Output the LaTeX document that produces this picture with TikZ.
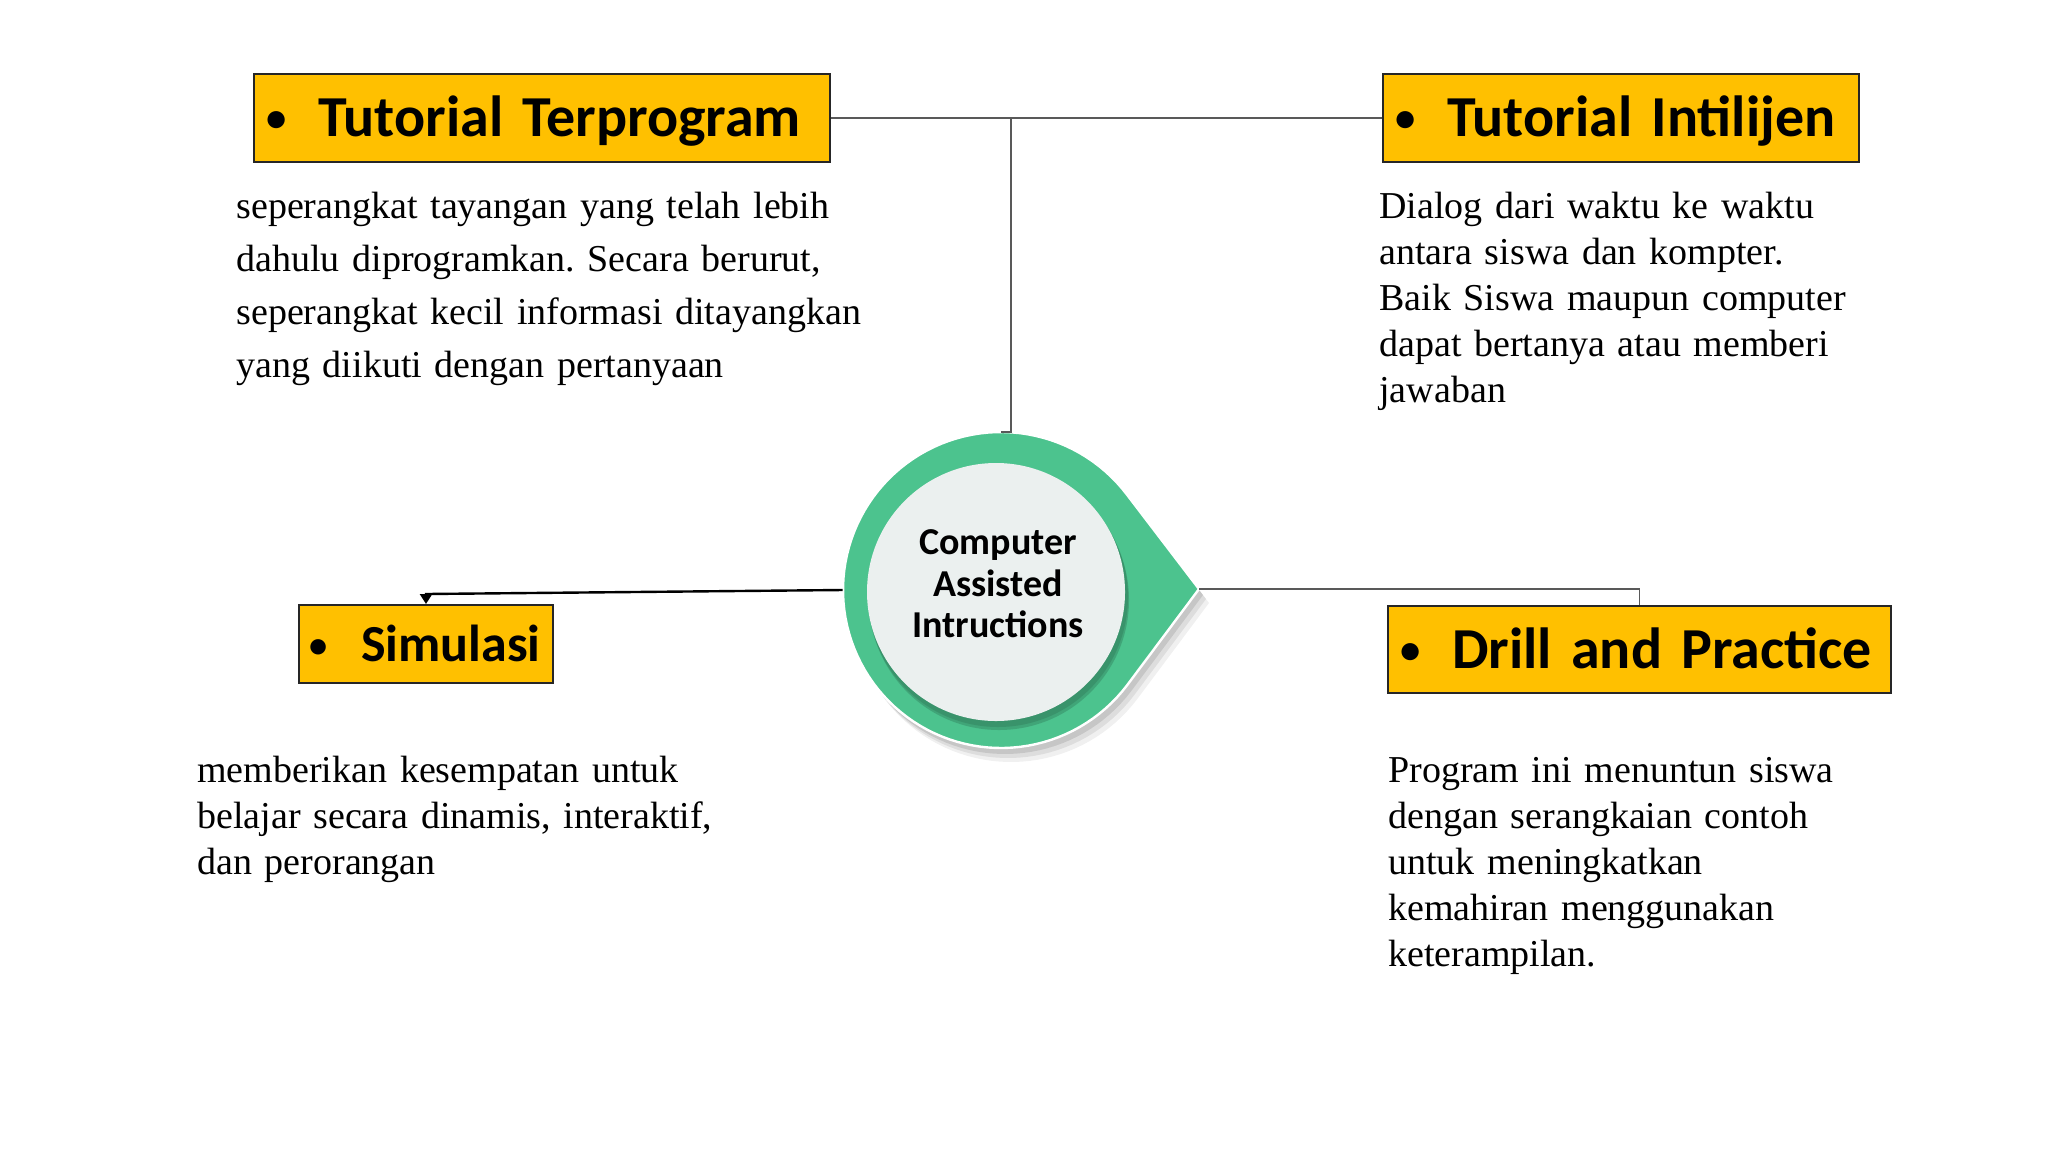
\documentclass[tikz,border=0pt]{standalone}
\usepackage{fontspec}
\setmainfont{Liberation Serif}[WordSpace=0.8]
\newfontfamily\calfont{Carlito}
\usetikzlibrary{arrows.meta}
\definecolor{gold}{HTML}{FFC000}
\definecolor{tealgreen}{HTML}{4CC38E}
\definecolor{innerc}{HTML}{EBF0EF}
\definecolor{linegrey}{HTML}{595959}
\newcommand{\teardroppath}[1]{(198,-1) -- plot[domain=37:323,samples=100] (\x:#1) -- cycle}
\newcommand{\bul}[1]{\makebox[#1][l]{\raisebox{0.08em}{\scalebox{0.7}{\textbullet}}}}
\frenchspacing
\begin{document}
\begin{tikzpicture}[x=0.5pt,y=-0.5pt,
  boxstyle/.style={draw=black!85, line width=1pt, fill=gold, anchor=north west,
    inner xsep=6pt, inner ysep=0pt, align=left, text height=20pt, text depth=1.5pt,
    font=\calfont\bfseries\fontsize{29}{34}\selectfont},
  desc/.style={anchor=base west, inner sep=0pt, align=left, text width=360pt,
    font=\fontsize{19}{23}\selectfont},
  conn/.style={draw=linegrey, line width=0.8pt},
  conndark/.style={draw=black, line width=1.2pt}]
\useasboundingbox (0,0) rectangle (2048,1152);
\fill[white] (0,0) rectangle (2048,1152);

% teardrop shadow
\foreach \dx/\dy/\op in {4/6/0.10, 7/10/0.08, 10/14/0.06}{
  \fill[black, opacity=\op, shift={(1001+\dx,590+\dy)}] \teardroppath{158};
}
% teardrop
\fill[tealgreen, draw=white, line width=1.2pt, shift={(1001,590)}] \teardroppath{158};
\node[circle, minimum size=158pt, inner sep=0pt] (outer) at (1001,590) {};
\coordinate (tip) at (1199,589);

% inner circle shadow and circle
\fill[black!60!tealgreen, opacity=0.25] (999,600) circle[radius=130];
\fill[black!60!tealgreen, opacity=0.2] (998,597) circle[radius=130];
\fill[innerc] (996,592) circle[radius=129];
\node[align=center, font=\calfont\bfseries\fontsize{19}{20.75}\selectfont] (cai) at (998,584)
  {Computer\\Assisted\\Intructions};

% boxes
\node[boxstyle, text width=276pt, minimum height=44pt] (tt) at (253,73)
  {\bul{26pt}Tutorial Terprogram};
\node[boxstyle, text width=226pt, minimum height=44pt] (ti) at (1382,73)
  {\bul{26pt}Tutorial Intilijen};
\node[boxstyle, text width=117pt, minimum height=39pt, inner xsep=5pt,
  text height=19pt, text depth=1.5pt,
  font=\calfont\bfseries\fontsize{26}{30}\selectfont] (sim) at (298,604)
  {\bul{26pt}Simulasi};
\node[boxstyle, text width=239.5pt, minimum height=43.5pt] (dp) at (1387,605)
  {\bul{26pt}Drill and Practice};

% descriptions
\node[desc, font=\fontsize{19}{26.5}\selectfont] (ttd) at (236,218)
  {seperangkat tayangan yang telah lebih\\dahulu diprogramkan. Secara berurut,\\seperangkat kecil informasi ditayangkan\\yang diikuti dengan pertanyaan};
\node[desc] (tid) at (1379,218)
  {Dialog dari waktu ke waktu\\antara siswa dan kompter.\\Baik Siswa maupun computer\\dapat bertanya atau memberi\\jawaban};
\node[desc] (simd) at (197,782)
  {memberikan kesempatan untuk\\belajar secara dinamis, interaktif,\\dan perorangan};
\node[desc] (dpd) at (1388,782)
  {Program ini menuntun siswa\\dengan serangkaian contoh\\untuk meningkatkan\\kemahiran menggunakan\\keterampilan.};

% connectors
\coordinate (junc) at (1011,117);
\coordinate (sbend) at (426,594);
\draw[conn] (tt.east) -- (ti.west);
\draw[conn, line width=1.1pt] (outer.north) -| (junc);
\draw[conndark, -{Triangle[length=5pt,width=6pt]}] (outer.west) -- (sbend) -- (sbend |- sim.north);
\draw[conn] (tip) -| (dp.north);
\end{tikzpicture}
\end{document}
